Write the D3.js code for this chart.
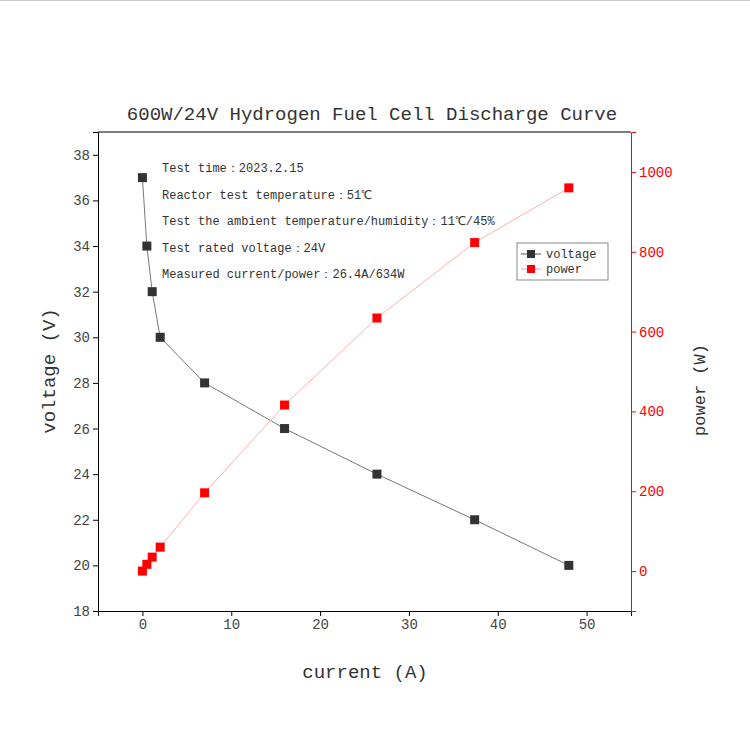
<!DOCTYPE html><html><head><meta charset="utf-8"><script src="https://d3js.org/d3.v7.min.js"></script>
<style>body{margin:0;background:#fff}text{font-family:"Liberation Mono","DejaVu Sans Mono",monospace}</style></head><body><svg id="c" width="750" height="750"></svg><script>
const current=[0,0.5,1.1,2,7,16,26.4,37.4,48];
const voltage=[37,34,32,30,28,26,24,22,20];
const power=[0,17,35,60,196,416,634,823,960];
const xTicks=[0,10,20,30,40,50];
const yTicks=[18,20,22,24,26,28,30,32,34,36,38];
const y2Ticks=[0,200,400,600,800,1000];
const notes=["Test time：2023.2.15","Reactor test temperature：51℃","Test the ambient temperature/humidity：11℃/45%","Test rated voltage：24V","Measured current/power：26.4A/634W"];
const svg=d3.select("#c");
svg.append("line").attr("x1",0).attr("x2",750).attr("y1",0.5).attr("y2",0.5).attr("stroke","#ccc");
const L=98,R=631,T=132,B=611;
const x=d3.scaleLinear([-5,55],[L,R]),y=d3.scaleLinear([18,39],[B,T]),y2=d3.scaleLinear([-100,1100],[B,T]);
const g=svg.append("g");
g.append("g").attr("transform",`translate(0,${B})`).call(d3.axisBottom(x).tickValues(xTicks).tickSize(5));
g.append("g").attr("transform",`translate(${L},0)`).call(d3.axisLeft(y).tickValues(yTicks).tickSize(5));
g.selectAll(".tick text").attr("fill","#444");
const ra=g.append("g").attr("transform",`translate(${R},0)`).call(d3.axisRight(y2).tickValues(y2Ticks).tickFormat(d3.format("d")).tickSize(5));
ra.selectAll("path,line").attr("stroke","#f00");ra.selectAll("text").attr("fill","#f00");
g.append("line").attr("x1",L).attr("x2",R).attr("y1",T).attr("y2",T).attr("stroke","#000");
g.selectAll(".tick text").attr("font-size",14);
ra.select(".domain").attr("stroke","#f00");
const lv=d3.line().x((d,i)=>x(current[i])).y(d=>y(d));
const lp=d3.line().x((d,i)=>x(current[i])).y(d=>y2(d));
svg.append("path").attr("d",lv(voltage)).attr("fill","none").attr("stroke","#555").attr("stroke-width",0.8);
svg.append("path").attr("d",lp(power)).attr("fill","none").attr("stroke","#f99").attr("stroke-width",0.8);
svg.selectAll(".pv").data(voltage).join("rect").attr("x",(d,i)=>x(current[i])-4.5).attr("y",d=>y(d)-4.5).attr("width",9).attr("height",9).attr("fill","#333");
svg.selectAll(".pp").data(power).join("rect").attr("x",(d,i)=>x(current[i])-4.5).attr("y",d=>y2(d)-4.5).attr("width",9).attr("height",9).attr("fill","#f00");
svg.append("text").attr("x",372).attr("y",120).attr("text-anchor","middle").attr("font-size",19).attr("fill","#333").text("600W/24V Hydrogen Fuel Cell Discharge Curve");
svg.append("text").attr("x",365).attr("y",678).attr("text-anchor","middle").attr("font-size",19).attr("fill","#333").text("current (A)");
svg.append("text").attr("transform","translate(55,371) rotate(-90)").attr("text-anchor","middle").attr("font-size",19).attr("fill","#333").text("voltage (V)");
svg.append("text").attr("transform","translate(705,390) rotate(-90)").attr("text-anchor","middle").attr("font-size",17).attr("fill","#333").text("power (W)");
svg.selectAll(".n").data(notes).join("text").attr("x",162).attr("y",(d,i)=>172+i*26.5).attr("font-size",12).attr("fill","#333").text(d=>d);
const lg=svg.append("g").attr("transform","translate(517,243)");
lg.append("rect").attr("width",91).attr("height",37).attr("fill","#fff").attr("stroke","#888");
[["voltage","#333","#555"],["power","#f00","#f99"]].forEach((s,i)=>{const yy=11+i*15;
lg.append("line").attr("x1",4).attr("x2",24).attr("y1",yy).attr("y2",yy).attr("stroke",s[2]);
lg.append("rect").attr("x",10).attr("y",yy-4).attr("width",8).attr("height",8).attr("fill",s[1]);
lg.append("text").attr("x",29).attr("y",yy+4).attr("font-size",12).attr("fill","#333").text(s[0]);});
</script></body></html>
